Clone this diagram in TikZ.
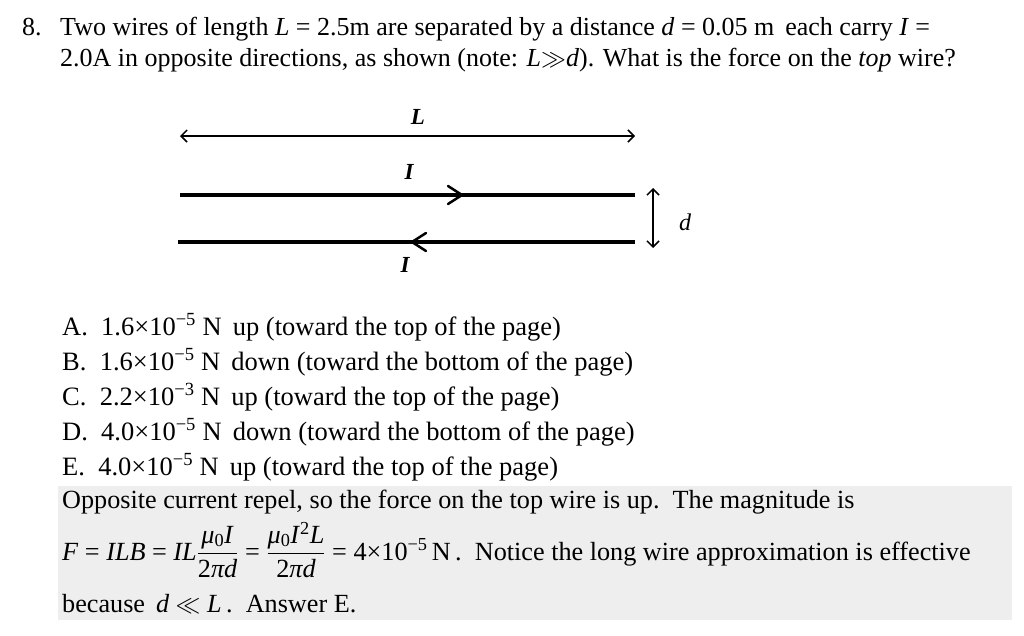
\documentclass[tikz,border=0pt]{standalone}
\usepackage{amsmath}
\usepackage{fontspec}
\setmainfont{Liberation Serif}
\usetikzlibrary{arrows.meta}
\newcommand{\tfr}[2]{$\dfrac{\text{#1}}{\text{#2}}$}
\begin{document}
\begin{tikzpicture}[x=1pt,y=-1pt,
  txt/.style={anchor=base west,inner sep=0pt,font=\fontsize{26}{30}\selectfont},
  opt/.style={anchor=base west,inner sep=0pt,font=\fontsize{26.5}{30}\selectfont},
  ans/.style={anchor=base west,inner sep=0pt,font=\fontsize{26.2}{30}\selectfont},
  lbl/.style={inner sep=0pt,font=\fontsize{23}{26}\selectfont\bfseries\itshape},
  wire/.style={line width=3.5pt},
  dim/.style={line width=1.5pt,{Straight Barb[length=6pt,width=12pt]}-{Straight Barb[length=6pt,width=12pt]}}]
\useasboundingbox (0,0) rectangle (1024,635);
\fill[gray!13] (58,486) rectangle (1012,620);
\node[txt] (n8) at (22,35) {8.};
\node[txt] (q1) at (60,35) {Two wires of length \textit{L} = 2.5m are separated by a distance \textit{d} = 0.05 m\, each carry \textit{I} =};
\node[txt] (q2) at (60,66) {2.0A in opposite directions, as shown (note: \textit{L}$\gg$\textit{d}). What is the force on the \textit{top} wire?};
% diagram
\coordinate (la) at (180,136); \coordinate (lb) at (635,136);
\draw[dim] (la) -- (lb);
\node[lbl] (L) at (418,117) {L};
\coordinate (t1) at (180,195); \coordinate (t2) at (635,195); \coordinate (tm) at (462,195);
\draw[wire] (t1) -- (t2);
\draw[line width=2.5pt,line cap=round] (448,186) -- (tm) -- (448,204);
\node[lbl] (I1) at (409,172) {I};
\coordinate (b1) at (178,242); \coordinate (b2) at (635,242); \coordinate (bm) at (412,242);
\draw[wire] (b1) -- (b2);
\draw[line width=2.5pt,line cap=round] (426,233) -- (bm) -- (426,251);
\node[lbl] (I2) at (405,265) {I};
\coordinate (da) at (653,188); \coordinate (db) at (653,248);
\draw[dim] (da) -- (db);
\node[lbl,font=\fontsize{24}{26}\selectfont\itshape] (d) at (685,222) {d};
% options
\node[opt] (A) at (62,335) {A.\ \ 1.6×10\textsuperscript{−5} N\, up (toward the top of the page)};
\node[opt] (B) at (62,370) {B.\ \ 1.6×10\textsuperscript{−5} N\, down (toward the bottom of the page)};
\node[opt] (C) at (62,405) {C.\ \ 2.2×10\textsuperscript{−3} N\, up (toward the top of the page)};
\node[opt] (D) at (62,440) {D.\ \ 4.0×10\textsuperscript{−5} N\, down (toward the bottom of the page)};
\node[opt] (E) at (62,475) {E.\ \ 4.0×10\textsuperscript{−5} N\, up (toward the top of the page)};
% answer
\node[ans] (s1) at (62,508) {Opposite current repel, so the force on the top wire is up.\ \ The magnitude is};
\node[ans] (s2) at (62,560) {\textit{F} = \textit{ILB} = \textit{IL}\tfr{\textit{μ}\textsubscript{0}\textit{I}}{2\textit{πd}} = \tfr{\textit{μ}\textsubscript{0}\textit{I}\textsuperscript{2}\textit{L}}{2\textit{πd}} = 4×10\textsuperscript{−5}\,N\,.\ \ Notice the long wire approximation is effective};
\node[ans] (s3) at (62,612) {because\, \textit{d} $\ll$ \textit{L}\,.\ \ Answer E.};
\end{tikzpicture}
\end{document}
